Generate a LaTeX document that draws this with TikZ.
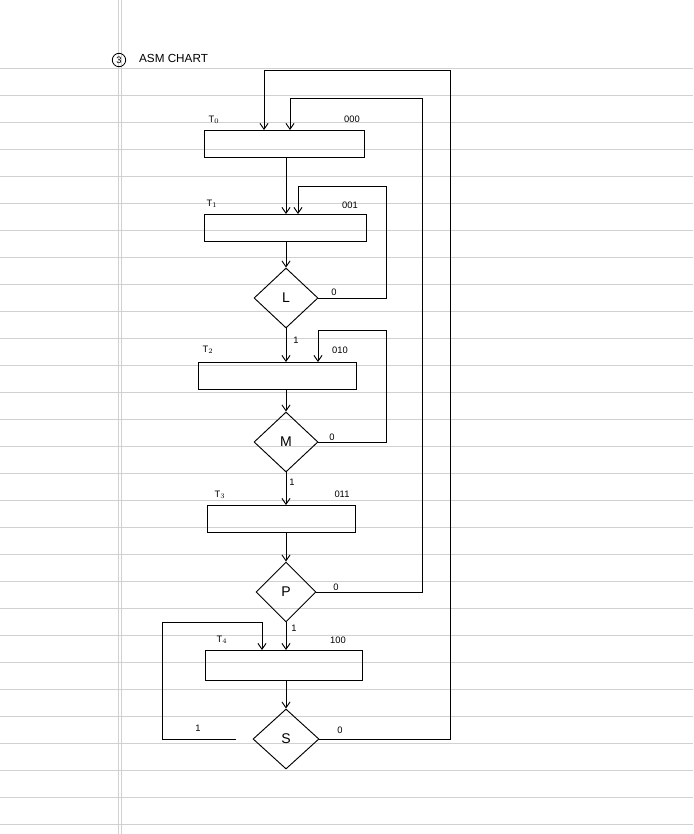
\documentclass[tikz,border=0pt]{standalone}
\usepackage{fontspec}
\setmainfont{Liberation Sans}
\usetikzlibrary{shapes.geometric,arrows.meta}
\begin{document}
\begin{tikzpicture}[x=0.03cm,y=-0.03cm,
  paper/.style={draw=black!18,line width=0.4pt},
  statebox/.style={draw,line width=0.8pt,minimum width=160*0.03cm,minimum height=27*0.03cm,inner sep=0pt},
  dec/.style={draw,diamond,line width=0.8pt,minimum width=64*0.03cm,minimum height=60*0.03cm,inner sep=0pt,font=\large},
  wire/.style={line width=0.8pt},
  arr/.style={line width=0.8pt,-{Straight Barb[length=5pt,width=7pt]}},
  lbl/.style={font=\footnotesize,inner sep=1pt}]
\fill[white] (0,0) rectangle (693,834);
\useasboundingbox (0,0) rectangle (693,834);
\foreach \y in {68,95,122,...,834} \draw[paper] (0,\y) -- (693,\y);
\draw[paper] (118,0) -- (118,834);
\draw[paper] (121,0) -- (121,834);
% title
\node[draw,circle,inner sep=1.5pt,font=\footnotesize,line width=0.7pt] (c3) at (119,60) {3};
\node[anchor=west,font=\normalsize] (title) at (135,58) {ASM CHART};
% states
\node[statebox] (t0) at (284,143.5) {};
\node[statebox,minimum width=162*0.03cm] (t1) at (285,227.5) {};
\node[statebox,minimum width=158*0.03cm] (t2) at (277,376) {};
\node[statebox,minimum width=148*0.03cm] (t3) at (281,519) {};
\node[statebox,minimum width=157*0.03cm,minimum height=30*0.03cm] (t4) at (283.5,665) {};
\node[lbl] (l0) at (214,120) {T$_0$};  \node[lbl] (c0) at (352,119) {000};
\node[lbl] (l1) at (212,204) {T$_1$};  \node[lbl] (c1) at (350,205) {001};
\node[lbl] (l2) at (208,350) {T$_2$};  \node[lbl] (c2) at (340,350) {010};
\node[lbl] (l3) at (220,495) {T$_3$};  \node[lbl] (c3b) at (342,494) {011};
\node[lbl] (l4) at (222,640) {T$_4$};  \node[lbl] (c4) at (338,640) {100};
% decisions
\node[dec] (L) at (286,298) {L};
\node[dec] (M) at (286,442) {M};
\node[dec,minimum width=60*0.03cm] (P) at (286,592) {P};
\node[dec,minimum width=66*0.03cm] (S) at (286,739) {S};
\node[lbl] at (334,292) {0};
\node[lbl] at (296,340) {1};
\node[lbl] at (332,437) {0};
\node[lbl] at (292,482) {1};
\node[lbl] at (336,587) {0};
\node[lbl] at (294,628) {1};
\node[lbl] at (198,728) {1};
\node[lbl] at (340,730) {0};
% vertical flow
\draw[arr] (286,157) -- (286,214);
\draw[arr] (286,241) -- (L.north);
\draw[arr] (L.south) -- (286,362);
\draw[arr] (286,390) -- (M.north);
\draw[arr] (M.south) -- (286,505);
\draw[arr] (286,533) -- (P.north);
\draw[arr] (P.south) -- (286,650);
\draw[arr] (286,680) -- (S.north);
% loops
\draw[wire] (S.east) -- (450,739) -- (450,70) -- (264,70);
\draw[arr] (264,70) -- (264,130);
\draw[wire] (P.east) -- (422,592) -- (422,98) -- (290,98);
\draw[arr] (290,98) -- (290,130);
\draw[wire] (L.east) -- (386,298) -- (386,186) -- (298,186);
\draw[arr] (298,186) -- (298,214);
\draw[wire] (M.east) -- (386,442) -- (386,330) -- (318,330);
\draw[arr] (318,330) -- (318,362);
\draw[wire] (236,739) -- (162,739) -- (162,622) -- (262,622);
\draw[arr] (262,622) -- (262,650);
\end{tikzpicture}
\end{document}
